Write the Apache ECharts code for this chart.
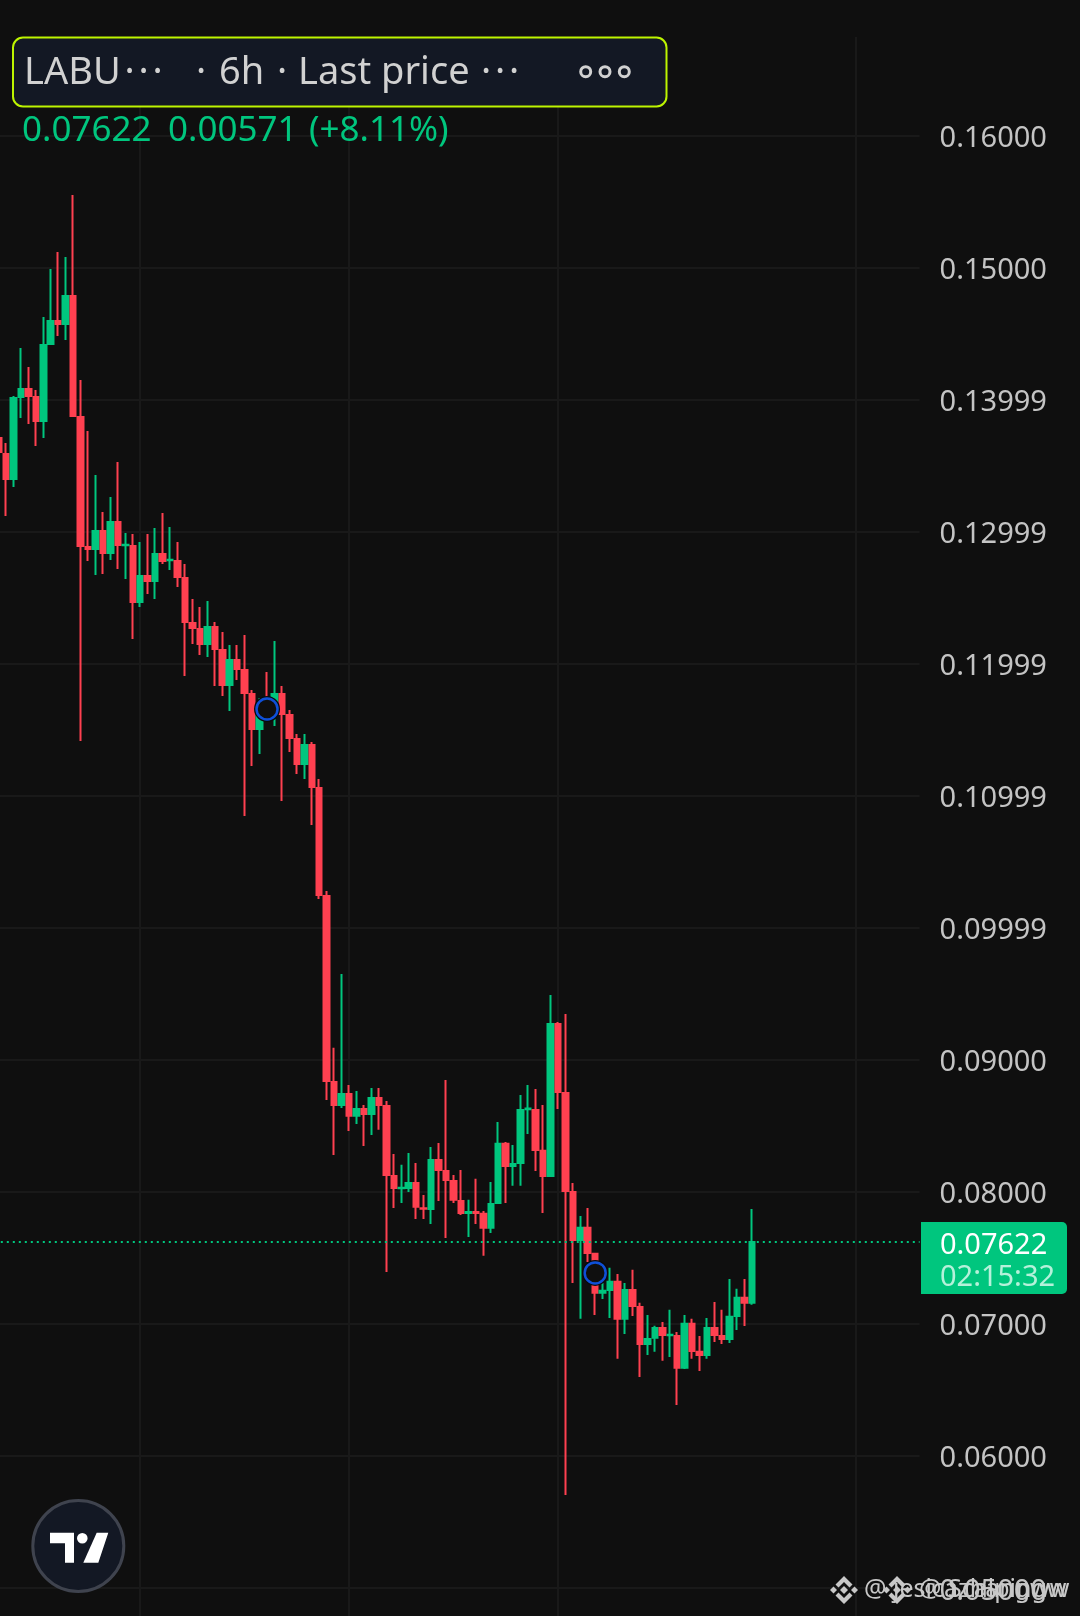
<!DOCTYPE html>
<html>
<head>
<meta charset="utf-8">
<style>html,body{margin:0;padding:0;background:#0f0f0f}#c{width:1080px;height:1616px}</style>
<script src="https://cdn.jsdelivr.net/npm/echarts@6/dist/echarts.min.js"></script>
</head>
<body>
<div id="c"></div>
<script>
const opens=[0.13710,0.13589,0.13400,0.14021,0.14081,0.14021,0.13839,0.14422,0.14596,0.14574,0.14786,0.13870,0.12885,0.12870,0.13006,0.12840,0.13074,0.12898,0.12893,0.12469,0.12666,0.12628,0.12832,0.12785,0.12779,0.12650,0.12310,0.12264,0.12151,0.12279,0.12105,0.11840,0.12029,0.11954,0.11772,0.11507,0.11628,0.11621,0.11772,0.11613,0.11431,0.11242,0.11386,0.11060,0.10242,0.08834,0.08660,0.08743,0.08577,0.08630,0.08592,0.08713,0.08652,0.08122,0.08029,0.08031,0.08069,0.07878,0.07872,0.08243,0.08160,0.08084,0.07933,0.07842,0.07850,0.07835,0.07729,0.07918,0.08365,0.08198,0.08221,0.08628,0.08622,0.08312,0.08122,0.09273,0.08751,0.08001,0.07638,0.07729,0.07532,0.07237,0.07259,0.07320,0.07040,0.07259,0.07130,0.06850,0.06896,0.06971,0.06916,0.06911,0.06669,0.07002,0.06790,0.06767,0.06971,0.06911,0.06888,0.07062,0.07199,0.07161];
const closes=[0.13604,0.13400,0.14013,0.14081,0.14028,0.13839,0.14415,0.14596,0.14574,0.14786,0.13877,0.12893,0.12870,0.13006,0.12840,0.13074,0.12900,0.12902,0.12469,0.12666,0.12628,0.12832,0.12779,0.12789,0.12658,0.12317,0.12272,0.12151,0.12279,0.12113,0.11840,0.12029,0.11961,0.11780,0.11507,0.11605,0.11598,0.11772,0.11621,0.11439,0.11242,0.11386,0.11068,0.10250,0.08842,0.08660,0.08743,0.08577,0.08630,0.08592,0.08713,0.08660,0.08130,0.08031,0.08033,0.08069,0.07888,0.07874,0.08243,0.08168,0.08092,0.07941,0.07842,0.07850,0.07842,0.07729,0.07910,0.08365,0.08198,0.08213,0.08622,0.08632,0.08319,0.08122,0.09273,0.08758,0.08009,0.07638,0.07729,0.07539,0.07237,0.07252,0.07320,0.07040,0.07259,0.07138,0.06850,0.06888,0.06971,0.06918,0.06920,0.06669,0.07002,0.06797,0.06767,0.06971,0.06918,0.06888,0.07055,0.07199,0.07161,0.07622];
const highs=[0.13771,0.13673,0.14028,0.14392,0.14248,0.14074,0.14627,0.14990,0.15119,0.15081,0.15550,0.14150,0.13763,0.13430,0.13150,0.13264,0.13529,0.12991,0.12984,0.12923,0.12984,0.13029,0.13143,0.13037,0.12923,0.12756,0.12491,0.12431,0.12476,0.12317,0.12241,0.12143,0.12143,0.12219,0.11802,0.11742,0.11939,0.12173,0.11833,0.11651,0.11469,0.11469,0.11409,0.11128,0.10280,0.09092,0.09652,0.08811,0.08766,0.08660,0.08789,0.08789,0.08690,0.08289,0.08206,0.08296,0.08221,0.07978,0.08342,0.08372,0.08849,0.08130,0.08168,0.07941,0.08100,0.07857,0.08077,0.08531,0.08380,0.08357,0.08736,0.08811,0.08781,0.08660,0.09493,0.09288,0.09349,0.08069,0.07819,0.07880,0.07539,0.07312,0.07426,0.07380,0.07312,0.07411,0.07161,0.07070,0.06987,0.07017,0.07108,0.06941,0.07070,0.07040,0.06911,0.07047,0.07168,0.07108,0.07342,0.07267,0.07342,0.07872];
const lows=[0.13574,0.13120,0.13339,0.13862,0.13816,0.13650,0.13710,0.14415,0.14483,0.14453,0.13870,0.11416,0.12779,0.12673,0.12681,0.12787,0.12719,0.12643,0.12188,0.12431,0.12529,0.12491,0.12756,0.12711,0.12582,0.11908,0.12151,0.12067,0.12052,0.11833,0.11757,0.11643,0.11878,0.10848,0.11227,0.11318,0.11575,0.11530,0.10962,0.11333,0.11166,0.11128,0.10780,0.10220,0.08698,0.08281,0.08637,0.08463,0.08516,0.08349,0.08433,0.08471,0.07395,0.07880,0.07918,0.08001,0.07797,0.07797,0.07759,0.07933,0.07653,0.07918,0.07827,0.07660,0.07759,0.07517,0.07691,0.07910,0.07918,0.08047,0.08047,0.08440,0.08160,0.07842,0.08114,0.08630,0.05707,0.07312,0.07040,0.07471,0.07070,0.07191,0.07047,0.06737,0.06926,0.07062,0.06600,0.06767,0.06790,0.06722,0.06752,0.06388,0.06661,0.06737,0.06646,0.06737,0.06865,0.06850,0.06858,0.06956,0.06986,0.07146];
const emptyBarsRight=22;
const signalPoints=[[36,0.11658],[80,0.07388]];
const lastPrice=0.07622;
const tickValues=[0.16,0.15,0.14,0.13,0.12,0.11,0.10,0.09,0.08,0.07,0.06,0.05];
const tickLabels=["0.16000","0.15000","0.13999","0.12999","0.11999","0.10999","0.09999","0.09000","0.08000","0.07000","0.06000","0.05000"];
const verticalLineBars=[19,47,75,115];

const categories=Array.from({length:opens.length+emptyBarsRight},(_,i)=>String(i));
const ohlc=opens.map((o,i)=>[o,closes[i],lows[i],highs[i]]);
const GREEN='#00c67e',RED='#ff4050',GRID='#191919',TXT='#c4c4c4',FONT='"Noto Sans", sans-serif';

function t(text,x,y,size,fill,extra){
  return {type:'text',z:50,style:Object.assign({text,x,y,fontSize:size,fontFamily:FONT,fill,verticalAlign:'middle',align:'left'},extra||{})};
}
function binance(cx,cy){
  const pts=[
    [[0,-4],[4,0],[0,4],[-4,0]],
    [[-14,0],[-10.5,-3.5],[-7,0],[-10.5,3.5]],
    [[14,0],[10.5,-3.5],[7,0],[10.5,3.5]],
    [[0,-14],[8.5,-5.5],[5.5,-2.5],[0,-8],[-5.5,-2.5],[-8.5,-5.5]],
    [[0,14],[8.5,5.5],[5.5,2.5],[0,8],[-5.5,2.5],[-8.5,5.5]]
  ];
  return pts.map(p=>({type:'polygon',z:50,shape:{points:p.map(q=>[q[0]+cx,q[1]+cy])},style:{fill:'#c8c8c8'}}));
}
const graphics=[
  {type:'rect',z:40,shape:{x:13,y:37.5,width:653.5,height:69,r:10},style:{fill:'#131824',stroke:'#bdf400',lineWidth:2}},
  t('LABU\u200a\u00b7\u200a\u00b7\u200a\u00b7',24,73,38,'#d1d1d1'),
  t('\u00b7',196,73,38,'#d1d1d1'),
  t('6h',219,73,38,'#d1d1d1'),
  t('\u00b7',277,73,38,'#d1d1d1'),
  t('Last price',298,73,38,'#d1d1d1'),
  t('\u00b7\u200a\u00b7\u200a\u00b7',481,73,38,'#d1d1d1'),
  {type:'circle',z:50,shape:{cx:585.7,cy:71.7,r:5},style:{fill:'none',stroke:'#d1d1d1',lineWidth:3}},
  {type:'circle',z:50,shape:{cx:605,cy:71.7,r:5},style:{fill:'none',stroke:'#d1d1d1',lineWidth:3}},
  {type:'circle',z:50,shape:{cx:624.3,cy:71.7,r:5},style:{fill:'none',stroke:'#d1d1d1',lineWidth:3}},
  t('0.07622',22,131,35,GREEN),
  t('0.00571',168,131,35,GREEN),
  t('(+8.11%)',309,131,35,GREEN),
  {type:'rect',z:40,shape:{x:921,y:1222,width:146,height:72,r:[0,5,5,0]},style:{fill:GREEN}},
  t('0.07622',940,1246,29,'#ffffff'),
  t('02:15:32',940,1278,29,'#b5f1da'),
  {type:'circle',z:40,shape:{cx:78.3,cy:1546,r:45.5},style:{fill:'#131824',stroke:'#3f434e',lineWidth:3}},
  {type:'polygon',z:50,shape:{points:[[50,1532.7],[74,1532.7],[74,1562.7],[65,1562.7],[65,1543.3],[50,1543.3]]},style:{fill:'#fff'}},
  {type:'circle',z:50,shape:{cx:82.3,cy:1538.3,r:5.3},style:{fill:'#fff'}},
  {type:'polygon',z:50,shape:{points:[[96.7,1532.7],[108.3,1532.7],[98.3,1562.7],[83.3,1562.7]]},style:{fill:'#fff'}},
  ...binance(844,1590),
  ...binance(897,1590),
  t('@ jesicazhangww',864,1590,25,'#c8c8c8'),
  t('@ Scalpingw',919,1590,25,'#c8c8c8')
];

const bottomVal=0.04, topVisible=0.16747;
const chart=echarts.init(document.getElementById('c'),null,{renderer:'canvas'});
chart.setOption({
  animation:false,
  backgroundColor:'#0f0f0f',
  grid:{left:-5.19,top:-128.5,width:924.8,height:1848.8,containLabel:false,outerBoundsMode:'none'},
  xAxis:{type:'category',data:categories,boundaryGap:true,axisLine:{show:false},axisTick:{show:false},axisLabel:{show:false},splitLine:{show:false}},
  yAxis:{type:'value',position:'right',min:0.04,max:0.18,interval:0.01,
    axisLine:{show:false},axisTick:{show:false},splitLine:{show:false},
    axisLabel:{show:true,margin:20,color:TXT,fontSize:29,fontFamily:FONT,align:'left',verticalAlign:'top',lineHeight:6,
      formatter:v=>{const i=tickValues.findIndex(k=>Math.abs(k-v)<1e-6);return i<0?'':tickLabels[i];}}},
  series:[
    {type:'line',name:'grid',data:[],z:1,silent:true,
      markLine:{silent:true,z:1,symbol:'none',precision:5,label:{show:false},animation:false,
        lineStyle:{color:GRID,width:2,type:'solid'},
        data:[
          ...tickValues.map(v=>({yAxis:v})),
          ...verticalLineBars.map(b=>[{xAxis:b,yAxis:topVisible},{xAxis:b,yAxis:bottomVal}])
        ]}},
    {type:'candlestick',name:'LABU',data:ohlc,z:2,barWidth:6,clip:true,
      itemStyle:{color:GREEN,color0:RED,borderColor:GREEN,borderColor0:RED,borderWidth:2}},
    {type:'line',name:'last',data:[],z:3,silent:true,
      markLine:{silent:true,z:3,symbol:'none',precision:5,label:{show:false},animation:false,
        lineStyle:{color:GREEN,width:2,type:[2,4]},
        data:[{yAxis:lastPrice}]}},
    {type:'scatter',name:'halo',data:signalPoints,z:4,symbol:'circle',symbolSize:26,silent:true,
      itemStyle:{color:'#0a0a0a',opacity:1}},
    {type:'scatter',name:'signal',data:signalPoints,z:5,symbol:'circle',symbolSize:21,silent:true,
      itemStyle:{color:'#0f0f0f',borderColor:'#0f50d8',borderWidth:2.5,opacity:1}}
  ],
  graphic:graphics
});
</script>
</body>
</html>
